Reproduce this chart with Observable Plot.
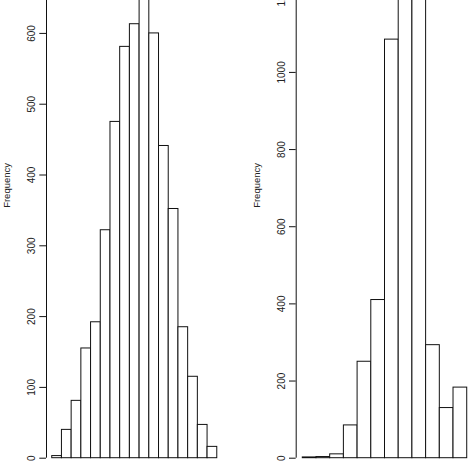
<!DOCTYPE html>
<html>
<head>
<meta charset="utf-8">
<script src="https://cdn.jsdelivr.net/npm/d3@7"></script>
<script src="https://cdn.jsdelivr.net/npm/@observablehq/plot@0.6"></script>
<style>
  html, body { margin: 0; padding: 0; background: #fff; }
  #wrap { display: flex; width: 474px; height: 474px; overflow: hidden; }
  #wrap > div { width: 237px; height: 474px; overflow: hidden; }
</style>
</head>
<body>
<div id="wrap"><div id="left"></div><div id="right"></div></div>
<script>
// Left histogram: bin counts (bins numbered left to right)
const leftCounts = [3, 40, 81, 155, 192, 322, 475, 581, 613, 700, 600, 441, 352, 185, 115, 47, 16];
const leftTicks = [0, 100, 200, 300, 400, 500, 600];

// Right histogram: bin counts
const rightCounts = [2, 3, 10, 85, 250, 410, 1085, 1300, 1250, 293, 130, 183];
const rightTicks = [0, 200, 400, 600, 800, 1000, 1200];

const yLabel = "Frequency";

function panel(counts, ticks, cfg) {
  const bins = counts.map((c, i) => ({x1: i, x2: i + 1, count: c}));
  const xMin = -cfg.pad, xMax = counts.length + cfg.pad;
  return Plot.plot({
    width: 237,
    height: 474,
    marginLeft: cfg.marginLeft,
    marginRight: cfg.marginRight,
    marginTop: 0,
    marginBottom: 16.3,
    style: {fontFamily: "'Liberation Sans', Arial, sans-serif", fontSize: "10px", color: "#000", background: "#fff", overflow: "hidden"},
    x: {domain: [xMin, xMax], axis: null},
    y: {domain: [0, cfg.yMax]},
    marks: [
      Plot.rectY(bins, {x1: "x1", x2: "x2", y: "count", fill: "white", stroke: "#111", strokeWidth: 1}),
      Plot.ruleX([xMin], {y1: 0, y2: Math.max(cfg.yMax, ticks[ticks.length - 1]), stroke: "#111", strokeWidth: 1}),
      Plot.axisY({ticks: ticks, tickFormat: d => String(d), tickRotate: -90, tickSize: 6.7, tickPadding: 5, label: null, stroke: "#111", fill: "#222", fontSize: 10}),
      Plot.text([yLabel], {frameAnchor: "left", dx: -39.7, dy: -21.5, rotate: -90, fill: "#222", fontSize: 9.5})
    ]
  });
}

document.getElementById("left").appendChild(panel(leftCounts, leftTicks, {marginLeft: 46, marginRight: 14.5, pad: 0.59, yMax: 646.5}));
document.getElementById("right").appendChild(panel(rightCounts, rightTicks, {marginLeft: 58.7, marginRight: 0.7, pad: 0.48, yMax: 1186.4}));
</script>
</body>
</html>
